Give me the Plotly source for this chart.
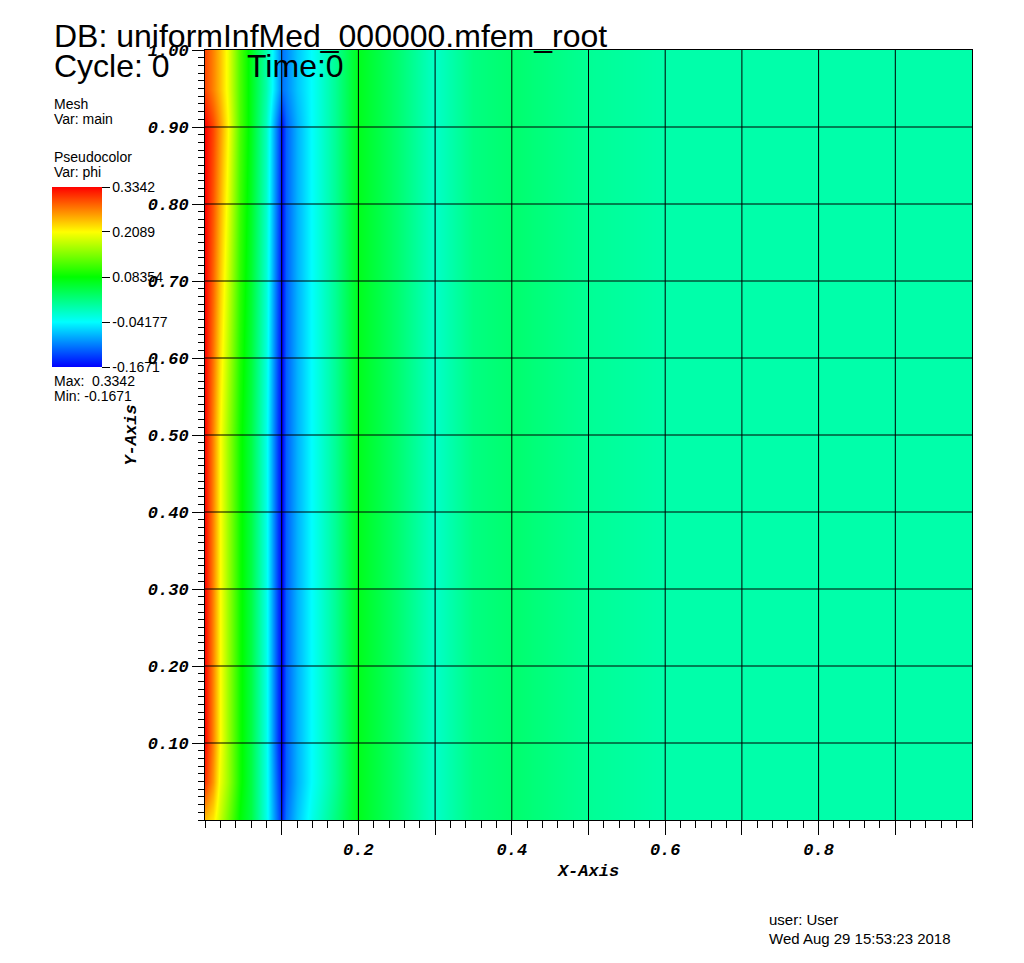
import plotly.graph_objects as go

# sample positions
x_pos = [0, 0.01, 0.02, 0.03, 0.045, 0.06, 0.08, 0.095, 0.1, 0.105, 0.12, 0.14, 0.17,
         0.2, 0.25, 0.3, 0.35, 0.4, 0.5, 0.6, 0.8, 1.0]
y_pos = [0, 0.05, 0.1, 0.5, 0.9, 0.95, 1.0]

tail = [0.07, 0.03, -0.015, 0.02, 0.03, 0.01, 0.0, 0.0, 0.0]
phi_bottom = [0.24, 0.22, 0.18, 0.14, 0.08, 0.05, -0.03, -0.12, -0.15, -0.11, -0.07, -0.03, 0.02] + tail
phi_low = [0.31, 0.26, 0.2, 0.16, 0.09, 0.05, -0.03, -0.13, -0.16, -0.12, -0.08, -0.04, 0.01] + tail
phi_mid = [0.33, 0.27, 0.21, 0.16, 0.09, 0.05, -0.03, -0.14, -0.167, -0.12, -0.08, -0.04, 0.01] + tail
phi_top = [0.334, 0.3, 0.26, 0.21, 0.12, 0.07, -0.01, -0.12, -0.16, -0.12, -0.08, -0.04, 0.01] + tail
phi_edge = [0.3, 0.27, 0.24, 0.2, 0.12, 0.07, 0.0, -0.08, -0.11, -0.1, -0.07, -0.04, 0.01] + tail
phi = [phi_bottom, phi_low, phi_mid, phi_mid, phi_top, phi_edge, phi_edge]

cbar_ticks = [0.3342, 0.2089, 0.08354, -0.04177, -0.1671]
cbar_text = ["0.3342", "0.2089", "0.08354", "-0.04177", "-0.1671"]
mesh = [round(0.1 * i, 1) for i in range(1, 11)]

# page has an 8px body margin, so target pixels are shifted by it
OFF = 8
W, H = 1016, 955
L, R, T, B = 205 - OFF, 1024 - 972, 50 - OFF, 963 - 820
pw, ph = W - L - R, H - T - B


def px(x):
    return (x - OFF - L) / pw


def py(y):
    return (H - B - (y - OFF)) / ph


fig = go.Figure(go.Heatmap(
    x=x_pos, y=y_pos, z=phi, zsmooth="best", zmin=-0.1671, zmax=0.3342,
    colorscale=[[0, "#0000ff"], [0.25, "#00ffff"], [0.5, "#00ff00"], [0.75, "#ffff00"], [1, "#ff0000"]],
    colorbar=dict(x=px(52), xanchor="left", y=py(277), yanchor="middle", xpad=0, ypad=0,
                  thickness=50, lenmode="pixels", len=180, outlinewidth=0,
                  tickvals=cbar_ticks, ticktext=cbar_text, ticks="outside", ticklen=8,
                  tickcolor="black", tickfont=dict(family="Liberation Sans", size=14, color="black")),
))

# mesh lines on top of the field
for v in mesh[:-1]:
    fig.add_vline(x=v, line=dict(color="black", width=1))
    fig.add_hline(y=v, line=dict(color="black", width=1))

axis_font = dict(family="Liberation Mono", size=17, color="black")
fig.update_xaxes(range=[0, 1], tickvals=mesh[:-1],
                 ticktext=["" if i % 2 == 0 else "<b><i>%.1f</i></b>" % v for i, v in enumerate(mesh[:-1])],
                 showgrid=False, ticks="outside", ticklen=14,
                 tickcolor="black", tickfont=axis_font,
                 minor=dict(dtick=0.02, ticks="outside", ticklen=7, tickcolor="black", showgrid=False),
                 showline=True, linecolor="black", mirror=True, zeroline=False,
                 title=dict(text="<b><i>X-Axis</i></b>", font=axis_font, standoff=4))
fig.update_yaxes(range=[0, 1], tickvals=mesh,
                 ticktext=["<b><i>%.2f</i></b>" % v for v in mesh],
                 showgrid=False, ticks="outside", ticklen=12,
                 tickcolor="black", tickfont=axis_font,
                 minor=dict(dtick=0.01, ticks="outside", ticklen=6, tickcolor="black", showgrid=False),
                 showline=True, linecolor="black", mirror=True, zeroline=False,
                 title=dict(text="<b><i>Y-Axis</i></b>", font=axis_font, standoff=6))

sans = "Liberation Sans"
notes = [
    (52, 36, "DB: uniformInfMed_000000.mfem_root", 32),
    (52, 66, "Cycle: 0", 32),
    (245, 66, "Time:0", 32),
    (52, 104, "Mesh", 14),
    (52, 119, "Var: main", 14),
    (52, 157, "Pseudocolor", 14),
    (52, 172, "Var: phi", 14),
    (52, 381, "Max:  0.3342", 14),
    (52, 396, "Min: -0.1671", 14),
    (767, 919, "user: User", 15),
    (767, 938, "Wed Aug 29 15:53:23 2018", 15),
]
for x, y, t, s in notes:
    fig.add_annotation(x=px(x), y=py(y), xref="paper", yref="paper", text=t, showarrow=False,
                       xanchor="left", yanchor="middle", font=dict(family=sans, size=s, color="black"))

fig.update_layout(width=W, height=H, margin=dict(l=L, r=R, t=T, b=B),
                  plot_bgcolor="white", paper_bgcolor="white", showlegend=False)
fig.write_html("out.html")
